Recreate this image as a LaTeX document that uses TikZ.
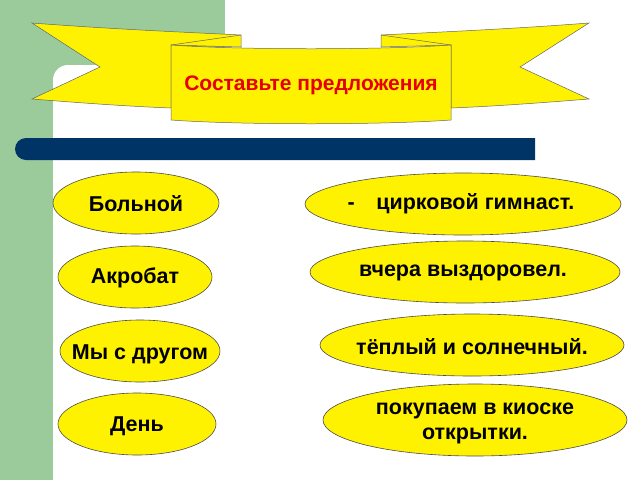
\documentclass[tikz,border=0pt]{standalone}
\usepackage{fontspec}
\setmainfont{Liberation Sans}
\definecolor{bggreen}{RGB}{155,203,155}
\definecolor{barblue}{RGB}{0,51,102}
\definecolor{titlered}{RGB}{230,0,0}
\begin{document}
\begin{tikzpicture}[x=1pt,y=-1pt,
  oval/.style={draw=black!70,fill=yellow,line width=0.6pt},
  lbl/.style={font=\bfseries\fontsize{21.5}{25}\selectfont,align=center}]
\useasboundingbox (0,0) rectangle (640,480);
\fill[white] (0,0) rectangle (640,480);
\fill[bggreen] (0,0) rectangle (225,480);
\fill[white] (53,480) -- (53,80) arc[start angle=180,end angle=270,radius=15] -- (640,65) -- (640,480) -- cycle;
% banner
\path[draw=black!60,fill=yellow,line width=0.5pt]
  (32,23) .. controls (110,29) and (180,32) .. (241,35) -- (241,47) -- (171,45) -- (171,108) .. controls (120,106) and (70,102) .. (32,99) -- (100,67) -- cycle;
\path[draw=black!60,fill=yellow,line width=0.5pt]
  (589,23) .. controls (511,29) and (441,32) .. (381,35) -- (381,47) -- (451,45) -- (451,108) .. controls (501,106) and (551,102) .. (589,99) -- (520,67) -- cycle;
\path[draw=black!60,fill=yellow,line width=0.5pt]
  (171,45) .. controls (240,50) and (382,50) .. (451,45) -- (451,120) .. controls (382,125) and (240,125) .. (171,120) -- cycle;
\draw[black!60,line width=0.5pt] (171,45) -- (241,35) (451,45) -- (381,35);
\node[font=\bfseries\fontsize{21}{24}\selectfont,text=titlered] (title) at (311,85) {Составьте предложения};
% bar
\fill[barblue] (535,138) -- (26,138) arc[start angle=270,end angle=90,radius=11] -- (535,160) -- cycle;
% ellipses
\draw[oval] (136,203) ellipse[x radius=83,y radius=31];
\draw[oval] (135,277) ellipse[x radius=77,y radius=31];
\draw[oval] (140,351) ellipse[x radius=80,y radius=31];
\draw[oval] (137,424) ellipse[x radius=79,y radius=31];
\draw[oval] (463,204) ellipse[x radius=158,y radius=31];
\draw[oval] (465,272) ellipse[x radius=155,y radius=31];
\draw[oval] (472,345) ellipse[x radius=152,y radius=31];
\draw[oval] (475,420) ellipse[x radius=152,y radius=36];
\node[lbl] (a1) at (136,204) {Больной};
\node[lbl] (a2) at (135,278) {Акробат};
\node[lbl] (a3) at (140,354) {Мы с другом};
\node[lbl] (a4) at (137,426) {День};
\node[lbl] (b1) at (461,204) {-\quad цирковой гимнаст.};
\node[lbl] (b2) at (463,273) {вчера выздоровел.};
\node[lbl] (b3) at (472,347) {тёплый и солнечный.};
\node[lbl] (b4) at (475,423) {покупаем в киоске\\открытки.};
\end{tikzpicture}
\end{document}
